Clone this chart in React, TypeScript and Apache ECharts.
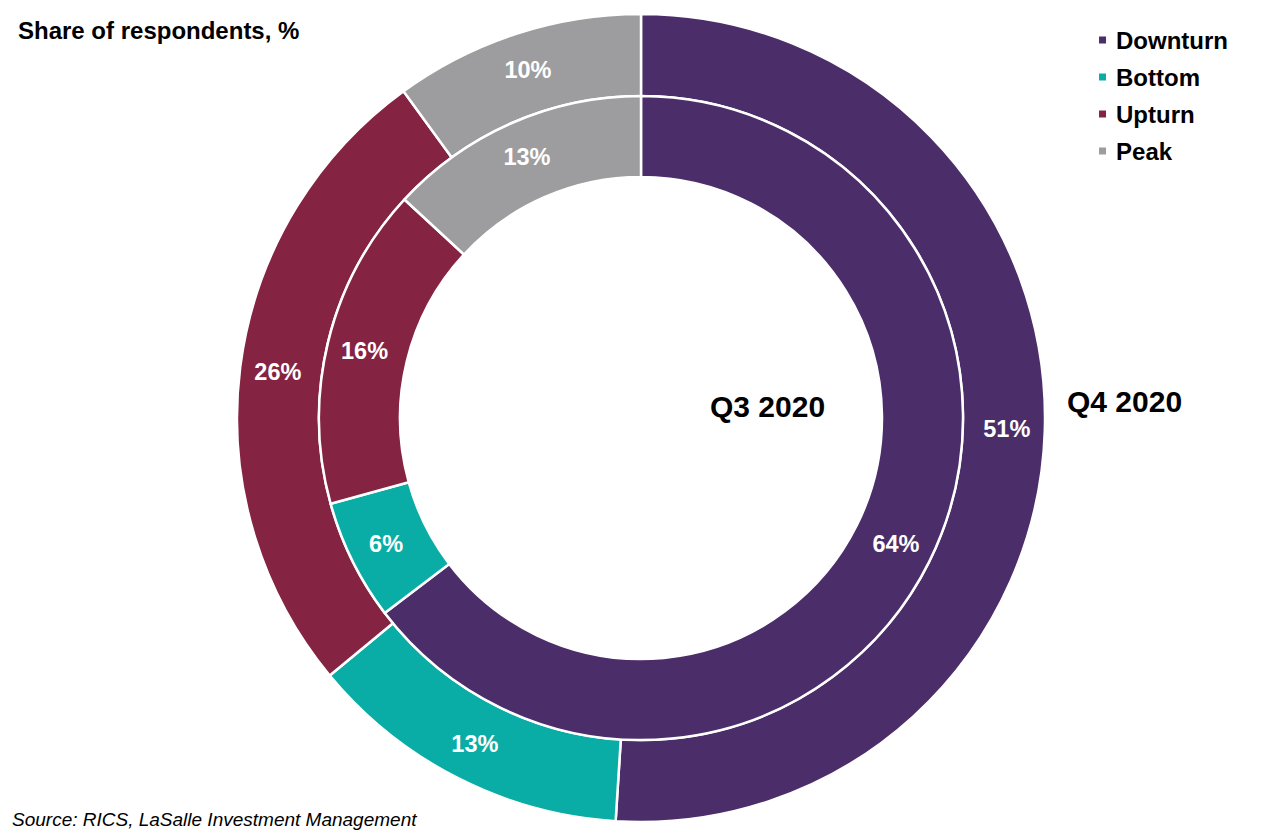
import React, { useEffect, useRef } from "react";
import * as echarts from "echarts";

// Market cycle phase shares, % of respondents
const phases = ["Downturn", "Bottom", "Upturn", "Peak"];
const q4Values = [51, 13, 26, 10];
const q3Values = [64, 6, 16, 13];
const phaseColors = ["#4B2D69", "#0AADA6", "#852342", "#9D9D9F"];

const FONT = "'Liberation Sans', Arial, sans-serif";

export default function App() {
  const ref = useRef<HTMLDivElement>(null);

  useEffect(() => {
    if (!ref.current) return;
    const chart = echarts.init(ref.current, null, { renderer: "svg" });

    const ringData = (vals: number[]) =>
      phases.map((name, i) => ({
        name,
        value: vals[i],
        itemStyle: { color: phaseColors[i] },
      }));

    const ringCommon = {
      type: "pie" as const,
      center: [641, 418],
      startAngle: 90,
      clockwise: true,
      avoidLabelOverlap: false,
      labelLine: { show: false },
      emphasis: { disabled: true },
      itemStyle: { borderColor: "#ffffff", borderWidth: 2.5 },
      label: {
        show: true,
        position: "inside",
        formatter: "{c}%",
        color: "#ffffff",
        fontFamily: FONT,
        fontWeight: "bold",
        fontSize: 23.5,
      },
    };

    chart.setOption({
      animation: false,
      backgroundColor: "#ffffff",
      title: {
        text: "Share of respondents, %",
        left: 13,
        top: 13,
        textStyle: {
          fontFamily: FONT,
          fontWeight: "bold",
          fontSize: 24,
          color: "#000000",
        },
      },
      legend: {
        orient: "vertical",
        right: 47,
        top: 23,
        icon: "rect",
        itemWidth: 9,
        itemHeight: 9,
        itemGap: 13,
        data: phases,
        textStyle: {
          fontFamily: FONT,
          fontWeight: "bold",
          fontSize: 24,
          color: "#000000",
          padding: [0, 0, 0, 4],
        },
      },
      graphic: [
        {
          type: "text",
          left: 710,
          top: 391,
          style: {
            text: "Q3 2020",
            font: `bold 30px ${FONT}`,
            fill: "#000000",
          },
        },
        {
          type: "text",
          left: 1067,
          top: 386,
          style: {
            text: "Q4 2020",
            font: `bold 30px ${FONT}`,
            fill: "#000000",
          },
        },
        {
          type: "text",
          left: 12,
          top: 810,
          style: {
            text: "Source: RICS, LaSalle Investment Management",
            font: `italic 19px ${FONT}`,
            fill: "#000000",
          },
        },
      ],
      series: [
        {
          ...ringCommon,
          name: "Q4 2020",
          radius: [322, 404],
          data: ringData(q4Values),
        },
        {
          ...ringCommon,
          name: "Q3 2020",
          radius: [241, 322],
          data: ringData(q3Values),
        },
      ],
    });

    return () => chart.dispose();
  }, []);

  return (
    <div
      ref={ref}
      style={{ position: "fixed", left: 0, top: 0, width: 1280, height: 838 }}
    />
  );
}
